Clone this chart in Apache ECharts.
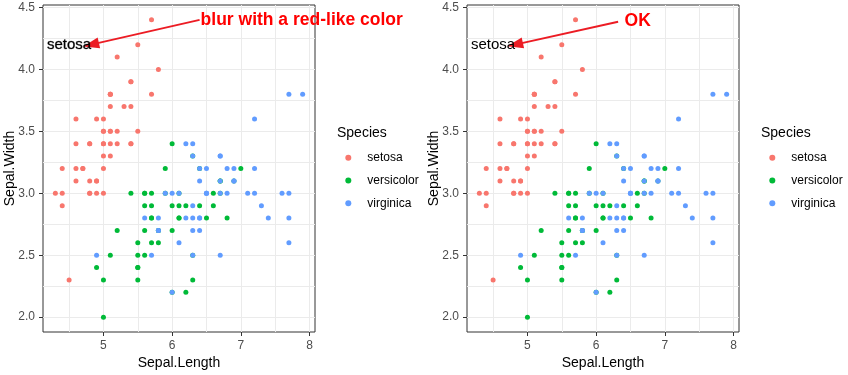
<!DOCTYPE html>
<html>
<head>
<meta charset="utf-8">
<script src="https://cdn.jsdelivr.net/npm/echarts@6/dist/echarts.min.js"></script>
<style>
  html, body { margin: 0; padding: 0; background: #fff; }
  #main { width: 848px; height: 375px; }
</style>
</head>
<body>
<div id="main"></div>
<script>
// iris: Sepal.Length / Sepal.Width per species
const setosaLength = [5.1,4.9,4.7,4.6,5.0,5.4,4.6,5.0,4.4,4.9,5.4,4.8,4.8,4.3,5.8,5.7,5.4,5.1,5.7,5.1,5.4,5.1,4.6,5.1,4.8,5.0,5.0,5.2,5.2,4.7,4.8,5.4,5.2,5.5,4.9,5.0,5.5,4.9,4.4,5.1,5.0,4.5,4.4,5.0,5.1,4.8,5.1,4.6,5.3,5.0];
const setosaWidth = [3.5,3.0,3.2,3.1,3.6,3.9,3.4,3.4,2.9,3.1,3.7,3.4,3.0,3.0,4.0,4.4,3.9,3.5,3.8,3.8,3.4,3.7,3.6,3.3,3.4,3.0,3.4,3.5,3.4,3.2,3.1,3.4,4.1,4.2,3.1,3.2,3.5,3.6,3.0,3.4,3.5,2.3,3.2,3.5,3.8,3.0,3.8,3.2,3.7,3.3];
const versicolorLength = [7.0,6.4,6.9,5.5,6.5,5.7,6.3,4.9,6.6,5.2,5.0,5.9,6.0,6.1,5.6,6.7,5.6,5.8,6.2,5.6,5.9,6.1,6.3,6.1,6.4,6.6,6.8,6.7,6.0,5.7,5.5,5.5,5.8,6.0,5.4,6.0,6.7,6.3,5.6,5.5,5.5,6.1,5.8,5.0,5.6,5.7,5.7,6.2,5.1,5.7];
const versicolorWidth = [3.2,3.2,3.1,2.3,2.8,2.8,3.3,2.4,2.9,2.7,2.0,3.0,2.2,2.9,2.9,3.1,3.0,2.7,2.2,2.5,3.2,2.8,2.5,2.8,2.9,3.0,2.8,3.0,2.9,2.6,2.4,2.4,2.7,2.7,3.0,3.4,3.1,2.3,3.0,2.5,2.6,3.0,2.6,2.3,2.7,3.0,2.9,2.9,2.5,2.8];
const virginicaLength = [6.3,5.8,7.1,6.3,6.5,7.6,4.9,7.3,6.7,7.2,6.5,6.4,6.8,5.7,5.8,6.4,6.5,7.7,7.7,6.0,6.9,5.6,7.7,6.3,6.7,7.2,6.2,6.1,6.4,7.2,7.4,7.9,6.4,6.3,6.1,7.7,6.3,6.4,6.0,6.9,6.7,6.9,5.8,6.8,6.7,6.7,6.3,6.5,6.2,5.9];
const virginicaWidth = [3.3,2.7,3.0,2.9,3.0,3.0,2.5,2.9,2.5,3.6,3.2,2.7,3.0,2.5,2.8,3.2,3.0,3.8,2.6,2.2,3.2,2.8,2.8,2.7,3.3,3.2,2.8,3.0,2.8,3.0,2.8,3.8,2.8,2.8,2.6,3.0,3.4,3.1,3.0,3.1,3.1,3.1,2.7,3.2,3.3,3.0,2.5,3.0,3.4,3.0];

const species = ['setosa', 'versicolor', 'virginica'];
const xTicks = [5, 6, 7, 8];
const yTicks = [2.0, 2.5, 3.0, 3.5, 4.0, 4.5];
const xMinor = [4.5, 5.5, 6.5, 7.5];
const yMinor = [2.25, 2.75, 3.25, 3.75, 4.25];

// annotation per panel
const notes = [
  { text: 'blur with a red-like color', label: [4.5, 4.2], textAt: [6.4, 4.4], from: [6.4, 4.4], to: [4.82, 4.2], blur: true },
  { text: 'OK', label: [4.5, 4.2], textAt: [6.4, 4.39], from: [6.32, 4.385], to: [4.82, 4.2], blur: false }
];

const colors = ['#F8766D', '#00BA38', '#619CFF'];
const font = 'Liberation Sans, Arial, sans-serif';

const pairs = (xs, ys) => xs.map((x, i) => [x, ys[i]]);
const speciesData = [
  pairs(setosaLength, setosaWidth),
  pairs(versicolorLength, versicolorWidth),
  pairs(virginicaLength, virginicaWidth)
];

const chart = echarts.init(document.getElementById('main'));

const grids = [], xAxes = [], yAxes = [], series = [], legends = [], titles = [];

[0, 424].forEach((off, p) => {
  grids.push({ left: 43 + off, top: 5, width: 272, height: 327, show: true, borderColor: '#333333', borderWidth: 1, backgroundColor: '#fff' });
  xAxes.push({
    gridIndex: p, type: 'value', min: 4.12, max: 8.08,
    name: 'Sepal.Length', nameLocation: 'middle', nameGap: 24, nameMoveOverlap: false,
    nameTextStyle: { color: '#000', fontSize: 14, fontFamily: font },
    axisLine: { show: false },
    axisTick: { show: true, length: 4, customValues: xTicks, lineStyle: { color: '#333333' } },
    axisLabel: { customValues: xTicks, color: '#4d4d4d', fontSize: 12, fontFamily: font, margin: 8 },
    splitLine: { show: false }
  });
  yAxes.push({
    gridIndex: p, type: 'value', min: 1.88, max: 4.52,
    name: 'Sepal.Width', nameLocation: 'middle', nameGap: 26, nameMoveOverlap: false,
    nameTextStyle: { color: '#000', fontSize: 14, fontFamily: font },
    axisLine: { show: false },
    axisTick: { show: true, length: 4, customValues: yTicks, lineStyle: { color: '#333333' } },
    axisLabel: { customValues: yTicks, color: '#4d4d4d', fontSize: 12, fontFamily: font, margin: 8,
      formatter: v => v.toFixed(1) },
    splitLine: { show: false }
  });

  // grid lines
  const lines = []
    .concat(xTicks.map(v => ({ xAxis: v })), xMinor.map(v => ({ xAxis: v })))
    .concat(yTicks.map(v => ({ yAxis: v })), yMinor.map(v => ({ yAxis: v })));
  series.push({
    type: 'scatter', name: 'grid' + p, xAxisIndex: p, yAxisIndex: p, data: [], silent: true,
    markLine: {
      z: 1, silent: true, symbol: 'none', animation: false,
      label: { show: false },
      lineStyle: { color: '#ebebeb', width: 1, type: 'solid' },
      emphasis: { disabled: true },
      data: lines
    }
  });

  species.forEach((s, i) => {
    series.push({
      type: 'scatter', name: s, xAxisIndex: p, yAxisIndex: p, z: 3,
      symbolSize: 5, itemStyle: { color: colors[i], opacity: 1 },
      data: speciesData[i]
    });
  });

  const n = notes[p];
  series.push({
    type: 'scatter', name: 'note' + p, xAxisIndex: p, yAxisIndex: p, data: [], silent: true, z: 6,
    markLine: {
      z: 6, silent: true, animation: false,
      symbol: ['none', 'path://M5,0L10,16L0,16Z'], symbolSize: [11, 16],
      label: { show: false },
      lineStyle: { color: '#ec1c24', width: 2, type: 'solid' },
      emphasis: { disabled: true },
      data: [[{ coord: n.from }, { coord: n.to }]]
    },
    markPoint: {
      z: 7, silent: true, animation: false, symbolSize: 0,
      data: [
        { coord: n.label, label: {
            show: true, position: 'inside', formatter: 'setosa', fontSize: 15, fontFamily: font, color: '#000',
            textBorderColor: n.blur ? 'rgba(0,0,0,0.5)' : 'transparent', textBorderWidth: n.blur ? 0.6 : 0,
            textShadowColor: n.blur ? 'rgba(0,0,255,0.85)' : 'transparent', textShadowOffsetX: n.blur ? 1 : 0, textShadowBlur: 0 } },
        { coord: n.textAt, label: {
            show: true, position: 'right', distance: 1, formatter: n.text, fontSize: 17.5, fontWeight: 'bold', fontFamily: font, color: '#ff0000' } }
      ]
    }
  });

  titles.push({ text: 'Species', left: 337 + off, top: 126, padding: 0,
    textStyle: { fontSize: 14, fontWeight: 'normal', color: '#000', fontFamily: font } });
  legends.push({
    data: species, orient: 'vertical', left: 345.3 + off, top: 150.7, padding: 0,
    itemWidth: 6, itemHeight: 6, itemGap: 8.8, icon: 'circle', selectedMode: false,
    textStyle: { fontSize: 12, fontFamily: font, color: '#000', lineHeight: 14, padding: [0, 0, 0, 11] }
  });
});

const option = {
  animation: false,
  backgroundColor: '#ffffff',
  color: colors,
  title: titles,
  legend: legends,
  grid: grids,
  xAxis: xAxes,
  yAxis: yAxes,
  series: series
};

option && chart.setOption(option);
</script>
</body>
</html>
